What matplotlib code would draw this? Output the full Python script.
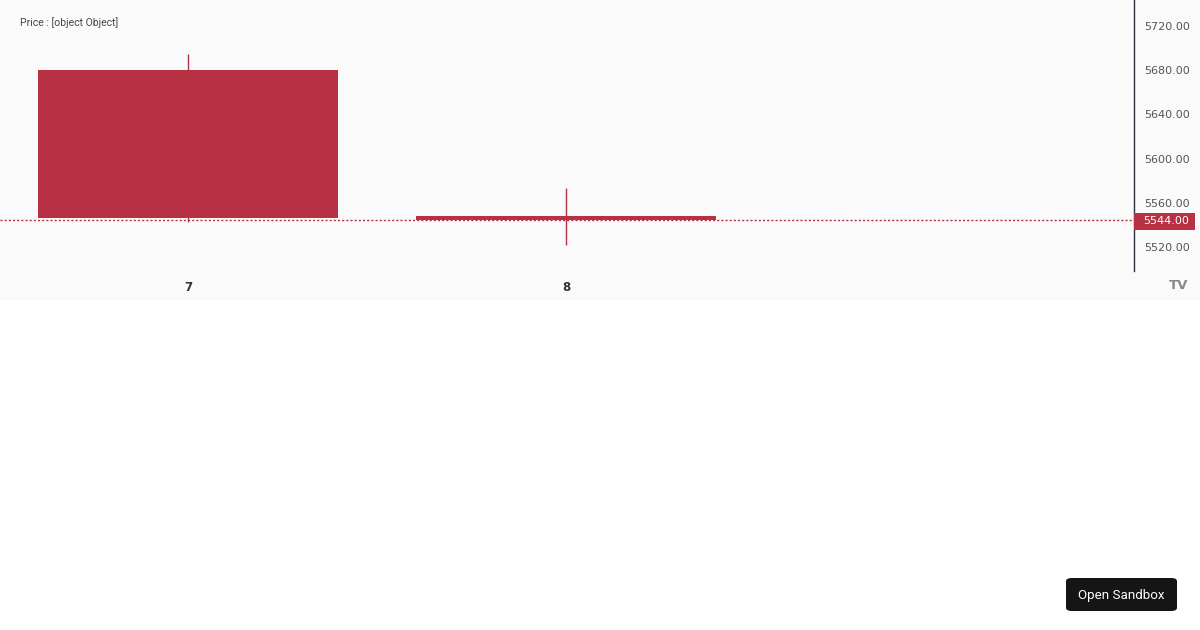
import matplotlib
matplotlib.use("Agg")
import matplotlib.pyplot as plt
from matplotlib.patches import Rectangle, FancyBboxPatch
from matplotlib.transforms import blended_transform_factory

# candle data (daily)
days = ['7', '8']
opens = [5680, 5548.5]
highs = [5695, 5573]
lows = [5543, 5522]
closes = [5546, 5544]
price_ticks = [5520, 5560, 5600, 5640, 5680, 5720]

W, H = 1200, 630
red = '#b73144'
bg = '#fafafa'

fig = plt.figure(figsize=(W / 100, H / 100), dpi=100)
fig.patch.set_facecolor('white')
# chart panel background (top 300px), kept under the axes
fig.patches.append(Rectangle((0, 1 - 300 / H), 1, 300 / H, transform=fig.transFigure,
                             facecolor=bg, edgecolor='none', zorder=-10))

ax = fig.add_axes([0, 1 - 271 / H, 1134 / W, 271 / H])
ax.set_facecolor('none')

x = list(range(len(days)))
for i in x:
    lo, hi = min(opens[i], closes[i]), max(opens[i], closes[i])
    color = red if closes[i] < opens[i] else '#26a69a'
    ax.vlines(i, lows[i], highs[i], color=color, lw=1, zorder=2)
    ax.bar(i, hi - lo, bottom=lo, width=0.796, color=color, zorder=3)

last = closes[-1]
ax.axhline(last, color=red, lw=1, linestyle=(0, (1.5, 1.5)), zorder=1)

ax.set_xlim(-188 / 378, (1134 - 188) / 378)
ax.set_ylim(5498.3, 5743.5)

ax.set_xticks(x)
ax.set_xticklabels(days, fontsize=8.5, color='#333333', fontweight='bold')
ax.yaxis.tick_right()
ax.set_yticks(price_ticks)
ax.set_yticklabels(['%.2f' % p for p in price_ticks], fontsize=8, color='#555555')
ax.tick_params(axis='both', length=0)
ax.tick_params(axis='y', pad=7)
ax.tick_params(axis='x', pad=7.5)

for s in ['top', 'left', 'bottom']:
    ax.spines[s].set_visible(False)
ax.spines['right'].set_color('#2a2e39')
ax.spines['right'].set_linewidth(1)

# last price label on the price scale
tr = blended_transform_factory(ax.transAxes, ax.transData)
ax.add_patch(Rectangle((1.0, last - 8.2), 61 / 1134, 15.4, transform=tr,
                       facecolor=red, edgecolor='none', clip_on=False, zorder=5))
ax.text(1.0 + 9 / 1134, last - 0.5, '%.2f' % last, transform=tr, ha='left', va='center',
        fontsize=8, color='white', zorder=6, clip_on=False)

ax.text(20 / 1134, 1 - 23 / 271, 'Price : [object Object]', transform=ax.transAxes,
        ha='left', va='center', fontsize=7.5, color='#444444', family='Roboto')

# TradingView mark
fig.text(1179 / W, 1 - 286 / H, 'TV', ha='center', va='center', fontsize=9.5,
         fontweight='heavy', color='#8a8a8a')

# sandbox button
fig.patches.append(FancyBboxPatch((1066 / W, 1 - 611 / H), 111 / W, 33 / H,
                                  boxstyle='round,pad=0,rounding_size=0.005',
                                  transform=fig.transFigure, facecolor='#151515',
                                  edgecolor='none'))
fig.text(1121.5 / W, 1 - 595 / H, 'Open Sandbox', ha='center', va='center',
         fontsize=9.6, color='white', family='Roboto')

fig.savefig('out.png', dpi=100, facecolor=fig.get_facecolor())
